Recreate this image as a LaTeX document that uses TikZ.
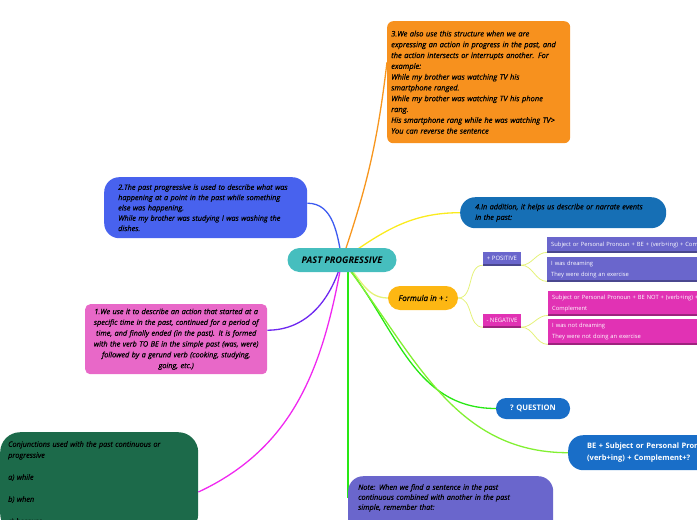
\documentclass[tikz,border=0pt]{standalone}
\usepackage{fontspec}
\setmainfont{Open Sans}
\newfontfamily\ideafont{Open Sans}[ItalicFeatures={FakeBold=0.5}]
\usetikzlibrary{backgrounds}
\definecolor{rootteal}{RGB}{70,190,190}
\definecolor{ideaorange}{RGB}{247,145,30}
\definecolor{ideablue}{RGB}{72,98,238}
\definecolor{ideapink}{RGB}{232,104,200}
\definecolor{ideagreen}{RGB}{28,106,74}
\definecolor{ideaviolet}{RGB}{106,102,204}
\definecolor{ideasea}{RGB}{22,111,181}
\definecolor{ideagold}{RGB}{253,183,19}
\definecolor{ideamagenta}{RGB}{225,50,180}
\definecolor{ideaquest}{RGB}{25,110,200}
\definecolor{lineorange}{RGB}{247,150,30}
\definecolor{lineblue}{RGB}{60,90,240}
\definecolor{lineyellow}{RGB}{250,235,30}
\definecolor{linepale}{RGB}{228,242,120}
\definecolor{linepurple}{RGB}{110,40,240}
\definecolor{linemagenta}{RGB}{240,40,240}
\definecolor{linegreen}{RGB}{40,232,20}
\definecolor{linelime}{RGB}{130,240,50}

\begin{document}
\begin{tikzpicture}[
    x=1pt, y=1pt,
    idea/.style={
      anchor=north west, inner ysep=0pt, align=left,
      font=\ideafont\fontsize{7.3}{10.6}\selectfont\itshape
    },
    pill/.style={
      rounded corners=12pt, minimum height=24pt, inner sep=0pt
    },
    tag/.style={
      minimum width=38pt, minimum height=13pt, inner sep=0pt,
      text=white, font=\fontsize{6}{7}\selectfont
    },
    leaf/.style={
      anchor=north west, inner xsep=4pt, inner ysep=0pt, text width=200pt,
      align=left, text=white, font=\fontsize{5.8}{11}\selectfont
    },
    underlined/.style={
      path picture={\draw[line width=1.6pt, #1]
        (path picture bounding box.south west) --
        (path picture bounding box.south east);}
    },
    link/.style={line width=1.3pt},
    twig/.style={line width=0.8pt, linepale}
  ]
    \useasboundingbox (0,0) rectangle (697,-520);
    \clip (0,0) rectangle (697,-520);

    % centre
    \node[pill, fill=rootteal, minimum width=109pt,
      font=\fontsize{9.2}{11}\selectfont\bfseries\itshape]
      (root) at (342,-260) {PAST PROGRESSIVE};

    % main ideas
    \node[idea, fill=ideaorange, rounded corners=6pt, inner xsep=4pt,
      text width=175pt, minimum height=122pt,
      font=\ideafont\fontsize{7.5}{10.8}\selectfont\itshape] (use3) at (387,-21)
      {3.We also use this structure when we are\\
       expressing an action in progress in the past, and\\
       the action intersects or interrupts another. For\\
       example:\\
       While my brother was watching TV his\\
       smartphone ranged.\\
       While my brother was watching TV his phone\\
       rang.\\
       His smartphone rang while he was watching TV>\\
       You can reverse the sentence};
    \node[idea, fill=ideablue, rounded corners=15pt, inner xsep=14pt,
      text width=175pt, minimum height=61pt,
      font=\ideafont\fontsize{7.3}{10.3}\selectfont\itshape] (use2) at (104,-177)
      {2.The past progressive is used to describe what was\\
       happening at a point in the past while something\\
       else was happening.\\
       While my brother was studying I was washing the\\
       dishes.};
    \node[idea, fill=ideapink, rounded corners=5pt, inner xsep=2pt,
      text width=178pt, minimum height=70pt, align=center,
      font=\ideafont\fontsize{7.3}{10.8}\selectfont\itshape] (use1) at (85,-304)
      {1.We use it to describe an action that started at a\\
       specific time in the past, continued for a period of\\
       time, and finally ended (in the past). It is formed\\
       with the verb TO BE in the simple past (was, were)\\
       followed by a gerund verb (cooking, studying,\\
       going, etc.)};
    \node[idea, fill=ideagreen, rounded corners=20pt, inner xsep=8pt,
      inner ysep=9pt, text width=182pt,
      font=\ideafont\fontsize{7.3}{11}\selectfont\itshape] (conj) at (0,-432)
      {Conjunctions used with the past continuous or\\
       progressive\\[11pt]
       a) while\\[11pt]
       b) when\\[11pt]
       c) because};
    \node[idea, fill=ideaviolet, rounded corners=15pt, inner xsep=10pt,
      inner ysep=8pt, text width=185pt, text depth=40pt,
      font=\ideafont\fontsize{7.3}{10}\selectfont\itshape] (note) at (348,-476)
      {Note: When we find a sentence in the past\\
       continuous combined with another in the past\\
       simple, remember that:};
    \node[idea, fill=ideasea, rounded corners=15pt, inner xsep=15pt,
      text width=176pt, minimum height=31pt] (use4) at (460,-197)
      {4.In addition, it helps us describe or narrate events\\
       in the past:};

    % formula branch
    \node[pill, fill=ideagold, minimum width=70pt,
      font=\ideafont\fontsize{8}{10}\selectfont\itshape] (formula) at (423,-298)
      {Formula in + :};
    \node[tag, fill=ideaviolet, underlined=ideaviolet!70!black]
      (pos) at (502,-258.5) {+ POSITIVE};
    \node[tag, fill=ideamagenta, underlined=ideamagenta!70!black]
      (neg) at (502,-320.5) {- NEGATIVE};
    \node[leaf, fill=ideaviolet, minimum height=15pt,
      underlined=ideaviolet!70!black] (posrule) at (547,-237)
      {Subject or Personal Pronoun + BE + (verb+ing) + Complement};
    \node[leaf, fill=ideaviolet, minimum height=24pt,
      underlined=ideaviolet!70!black] (posex) at (547,-257)
      {I was dreaming\\They were doing an exercise};
    \node[leaf, fill=ideamagenta, minimum height=24pt,
      underlined=ideamagenta!70!black] (negrule) at (548,-291)
      {Subject or Personal Pronoun + BE NOT + (verb+ing) +\\Complement};
    \node[leaf, fill=ideamagenta, minimum height=25pt,
      underlined=ideamagenta!70!black] (negex) at (548,-319)
      {I was not dreaming\\They were not doing an exercise};

    % question branch
    \node[pill, fill=ideaquest, rounded corners=10pt, minimum width=74pt,
      minimum height=21pt, text=white,
      font=\fontsize{7.6}{9}\selectfont\bfseries] (quest) at (533,-408.5)
      {? QUESTION};
    \node[idea, fill=ideaquest, rounded corners=15pt, inner xsep=19pt,
      text width=180pt, minimum height=35pt, text=white,
      font=\fontsize{7.5}{12}\selectfont\bfseries] (questrule) at (568,-435)
      {BE + Subject or Personal Pronoun +\\(verb+ing) + Complement+?};

    % connectors
    \begin{scope}[on background layer]
      \draw[link, lineorange] (root.center) to[bend right=6] ([yshift=20pt]use3.west);
      \draw[link, lineblue] (root.center) to[out=100, in=0] ([yshift=4.5pt]use2.east);
      \draw[link, lineyellow] (root.center) to[out=35, in=180] (use4.west);
      \draw[link, linepale] (root.center) to[out=-40, in=180] (formula.west);
      \draw[link, linepurple] (root.center) to[out=-105, in=0] ([yshift=9pt]use1.east);
      \draw[link, linemagenta] (root.center) to[out=-100, in=25] ([yshift=-60pt]conj.north east);
      \draw[link, linegreen] (root.south -| note.north west) -- ([yshift=-22pt]note.north west);
      \draw[link, linegreen] (root.center) to[out=-50, in=180] (quest.west);
      \draw[link, linelime] (root.center) to[out=-52, in=180] (questrule.west);
      \draw[twig] (formula.east) to[out=0, in=180] (pos.south west);
      \draw[twig] (formula.east) to[out=0, in=180] (neg.south west);
      \draw[twig] (pos.south east) to[out=0, in=180] (posrule.south west);
      \draw[twig] (pos.south east) to[out=0, in=180] (posex.south west);
      \draw[twig] (neg.south east) to[out=0, in=180] (negrule.south west);
      \draw[twig] (neg.south east) to[out=0, in=180] (negex.south west);
    \end{scope}
  \end{tikzpicture}
\end{document}
